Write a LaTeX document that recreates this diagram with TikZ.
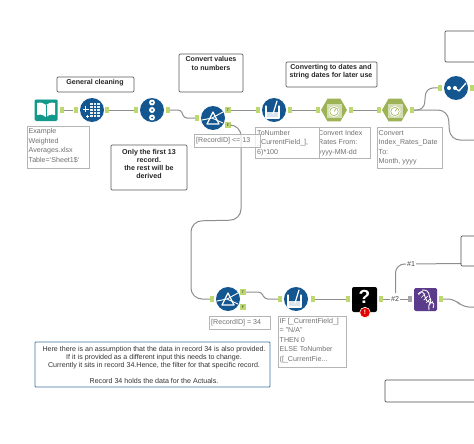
\documentclass[tikz,border=0pt]{standalone}
\usepackage{fontspec}
\setmainfont{Liberation Sans}
\usetikzlibrary{shapes.geometric}
\definecolor{toolblue}{HTML}{14568F}
\definecolor{anchorgreen}{HTML}{BCD86F}
\definecolor{teal}{HTML}{12998A}
\definecolor{hexgreen}{HTML}{9DB356}
\definecolor{dnapurple}{HTML}{5B3B8C}
\definecolor{commentgray}{HTML}{707070}
\definecolor{commentedge}{HTML}{B5B5B5}
\definecolor{wire}{HTML}{8E8E8E}
\definecolor{noteblue}{HTML}{3F75A5}
\tikzset{
  x=1pt,y=-1pt,
  anch/.style={fill=anchorgreen,draw=none,minimum width=4pt,minimum height=6.5pt,inner sep=0pt,font=\fontsize{3.5}{4}\selectfont\bfseries,text=black!70},
  wirel/.style={draw=wire,line width=1pt,rounded corners=4pt},
  toolc/.style={circle,fill=toolblue,draw=none,minimum size=24pt,inner sep=0pt},
  hex/.style={regular polygon,regular polygon sides=6,fill=hexgreen,draw=none,minimum size=26pt,inner sep=0pt},
  commentbox/.style={draw=commentedge,line width=0.8pt,fill=white},
  commenttext/.style={font=\fontsize{7.1}{9.5}\selectfont,text=commentgray,align=left,anchor=north west,inner sep=0pt},
  headbox/.style={draw=black!65,line width=0.7pt,rounded corners=1.2pt,fill=white},
  headtext/.style={font=\fontsize{7.1}{8.2}\selectfont\bfseries,text=black!85,align=center,inner sep=0pt},
  emptybox/.style={draw=black!70,line width=0.7pt,rounded corners=1.2pt},
  glyph/.style={draw=white,line width=1.2pt,line cap=round,line join=round}
}
\newcommand{\PrismGlyph}[2]{%
  \draw[glyph] (#1-6,#2+6) -- (#1,#2-6) -- (#1+6,#2+6) -- cycle;
  \draw[glyph,line width=0.9pt] (#1-11,#2+2) -- (#1-1,#2) -- (#1+10,#2-6);
  \draw[glyph,line width=0.9pt] (#1-1,#2) -- (#1+10,#2+5);
}
\newcommand{\BeakerGlyph}[2]{%
  \draw[glyph] (#1-8,#2-4) -- (#1-8,#2+8) -- (#1+5,#2+8) -- (#1+5,#2-4);
  \draw[glyph] (#1-1,#2+4) -- (#1+3,#2-9);
  \fill[white,opacity=.85] (#1-7,#2+2) rectangle (#1+4,#2+7);
}
\begin{document}
\begin{tikzpicture}
\useasboundingbox (0,0) rectangle (474,444);
% anchors
\node[anch] (a1o) at (62,110) {};
\node[anch] (a2i) at (75.5,110) {};
\node[anch] (a2o) at (107,110) {};
\node[anch] (a3i) at (136,110) {};
\node[anch] (a3o) at (168,110) {};
\node[anch] (a4i) at (197,118) {};
\node[anch,minimum width=6pt] (a4t) at (228,110) {T};
\node[anch,minimum width=6pt] (a4f) at (228,125) {F};
\node[anch] (a5i) at (258,110) {};
\node[anch] (a5o) at (290,110) {};
\node[anch] (a6i) at (318,110) {};
\node[anch] (a6o) at (351,110) {};
\node[anch] (a7i) at (379,110) {};
\node[anch] (a7o) at (412,110) {};
\node[anch] (a8i) at (440,88) {};
\node[anch] (a8o) at (472,88) {};
\node[anch] (b1i) at (212,299) {};
\node[anch,minimum width=6pt] (b1t) at (243,292) {T};
\node[anch,minimum width=6pt] (b1f) at (243,307) {F};
\node[anch] (b2i) at (280,299) {};
\node[anch] (b2o) at (313,299) {};
\node[anch] (b3i) at (348,299) {};
\node[anch] (b3o) at (381,299) {};
\node[anch,fill=black!35] (b4i) at (410,299) {};
\node[anch] (b4o) at (441,299) {};
\coordinate (rightA) at (474,140);
\coordinate (rightB) at (474,307);
\node[font=\fontsize{7.1}{8}\selectfont,text=black!75,inner sep=1pt,fill=white] (lab2) at (395,299) {\#2};
\node[font=\fontsize{7.1}{8}\selectfont,text=black!75,inner sep=1pt,fill=white] (lab1) at (411,264) {\#1};
% wires
\draw[wirel] (a1o) -- (a2i);
\draw[wirel] (a2o) -- (a3i);
\draw[wirel,rounded corners=3pt] (a3o) -- (181,110) -- (184,118) -- (a4i);
\draw[wirel] (a4t) -- (a5i);
\draw[wirel] (a5o) -- (a6i);
\draw[wirel] (a6o) -- (a7i);
\draw[wirel,rounded corners=7pt] (a7o) -- (424,110) -- (426,88) -- (a8i);
\draw[wirel,rounded corners=10pt] (a7o) -- (448,110) -- (450,140) -- (rightA);
\draw[wirel,rounded corners=11pt] (a4f) -- (241,125) -- (241,220) -- (191,221) -- (191,299) -- (b1i);
\draw[wirel,rounded corners=3pt] (b1t) -- (261,292) -- (265,299) -- (b2i);
\draw[wirel] (b2o) -- (b3i);
\draw[wirel] (b3o) -- (lab2);
\draw[wirel] (lab2) -- (b4i);
\draw[wirel,rounded corners=7pt] (b4o) -- (455,299) -- (462,307) -- (rightB);
\draw[wirel,rounded corners=9pt] (395.5,293) -- (395.5,264) -- (lab1);
\draw[wirel] (lab1) -- (461,263.5);
% tools
\node[rectangle,rounded corners=1.5pt,fill=teal,minimum width=23pt,minimum height=22pt,inner sep=0pt] (t1) at (46,110) {};
\fill[white] (37,103) .. controls (41,102) and (44,103) .. (46,105) .. controls (48,103) and (51,102) .. (55,103) -- (55,115) .. controls (51,114) and (48,115) .. (46,117) .. controls (44,115) and (41,114) .. (37,115) -- cycle;
\draw[teal,line width=.8pt] (46,105) -- (46,117);
\fill[white,opacity=.55] (34,99) -- (57,99) -- (57,100) -- (34,100) -- cycle;
\node[toolc] (t2) at (92,110) {};
\fill[white,opacity=.9] (90,103) rectangle (100,118);
\foreach \yy in {105,108,111,114,117}{\draw[toolblue,line width=.5pt] (90,\yy) -- (100,\yy);}
\foreach \xx in {93,96.5}{\draw[toolblue,line width=.5pt] (\xx,103) -- (\xx,118);}
\draw[white,line width=.8pt] (85.5,106) -- (85.5,112) (82.5,109) -- (88.5,109);
\draw[white,line width=.6pt] (87,115) -- (87,118) (85.5,116.5) -- (88.5,116.5);
\node[toolc] (t3) at (152,110) {};
\foreach \yy in {102.5,110,117.5}{\fill[white] (152,\yy) circle (3pt);\fill[toolblue] (152,\yy) circle (1pt);}
\node[toolc] (t4) at (213,118) {};
\PrismGlyph{213}{118}
\node[toolc] (t5) at (274,110) {};
\BeakerGlyph{274}{110}
\foreach \nn/\xx in {t6/334,t7/395}{
  \node[hex] (\nn) at (\xx,110) {};
  \fill[hexgreen!45!white] (\xx-7.5,104) rectangle (\xx+7.5,118);
  \fill[white] (\xx,111.5) circle (5.5pt);
  \draw[hexgreen,line width=.6pt] (\xx,111.5) circle (4.2pt);
  \draw[hexgreen,line width=.6pt] (\xx,111.5) -- (\xx+2,108.5);
}
\node[toolc] (t8) at (456,88) {};
\fill[white] (449,88) circle (2pt) (455,88) circle (2pt);
\draw[glyph,line width=1.3pt] (455,88) -- (459,91) -- (466,83);
\node[toolc] (t9) at (228,299) {};
\PrismGlyph{228}{299}
\node[toolc] (t10) at (296,299) {};
\BeakerGlyph{296}{299}
\node[rectangle,rounded corners=2pt,fill=black,minimum width=25pt,minimum height=25pt,inner sep=0pt] (t11) at (364.5,299.5) {};
\node[text=white,inner sep=0pt,font=\fontsize{19}{19}\selectfont\bfseries] (t11q) at (364.5,297) {?};
\node[circle,fill=red!90!black,draw=white,line width=.6pt,minimum size=10.5pt,inner sep=0pt,text=white,font=\fontsize{6.5}{7}\selectfont\bfseries] (t11e) at (365,312.5) {!};
\node[rectangle,rounded corners=1.5pt,fill=dnapurple,minimum width=23pt,minimum height=23pt,inner sep=0pt] (t12) at (425.5,299.5) {};
\foreach \pp in {0,2.6,...,13}{\draw[white,line width=.6pt] (418.5+\pp,295+\pp) -- (422.5+\pp,291+\pp);}
\draw[white,line width=.9pt] (418,294) .. controls (425,287) and (424,298) .. (427,301) .. controls (430,304) and (436,300) .. (433,308);
\draw[white,line width=.9pt] (422,290) .. controls (431,290) and (428,295) .. (430,298) .. controls (433,301) and (427,304) .. (429,310);
% comments
\draw[commentbox] (27,126) rectangle (89,168);
\node[commenttext] (c1) at (28.5,128.5) {Example\\Weighted\\Averages.xlsx\\Table=`Sheet1\$`};
\draw[commentbox] (319,127) rectangle (370,158);
\node[commenttext] (c3) at (318,130) {Convert Index\\Rates From:\\yyyy-MM-dd};
\draw[commentbox] (255,127) rectangle (319,158);
\node[commenttext] (c2) at (257,130) {ToNumber\\ \_CurrentField\_],\\6)*100};
\draw[commentbox] (377,127) rectangle (442,168);
\node[commenttext] (c4) at (378.5,130) {Convert\\Index\_Rates\_Date\\To:\\Month, yyyy};
\draw[commentbox,fill=white,fill opacity=.75] (194,134) rectangle (260,147);
\node[commenttext,anchor=west] (c5) at (196,140.5) {[RecordID] <= 13};
\draw[commentbox] (209,316) rectangle (270,329);
\node[commenttext,anchor=west] (c6) at (211,322.5) {[RecordID] = 34};
\draw[commentbox] (278,316) rectangle (346,367);
\node[commenttext] (c7) at (279.5,318) {IF [\_CurrentField\_]\\= "N/A"\\THEN 0\\ELSE ToNumber\\([\_CurrentFie...};
% heading boxes
\draw[headbox] (57,77) rectangle (134,92);
\node[headtext] (h1) at (95,82.5) {General cleaning};
\draw[headbox] (179,54) rectangle (243,92);
\node[headtext] (h2) at (211,63.5) {Convert values\\to numbers};
\draw[headbox] (286,62) rectangle (377,87);
\node[headtext] (h3) at (331,71.5) {Converting to dates and\\string dates for later use};
\draw[headbox] (111,145) rectangle (187,190);
\node[headtext] (h4) at (149,164) {Only the first 13\\record.\\the rest will be\\derived};
% empty boxes
\draw[emptybox] (480,31) -- (445,31) -- (445,62) -- (480,62);
\draw[emptybox] (480,236) -- (461,236) -- (461,266) -- (480,266);
\draw[emptybox] (480,380) -- (385,380) -- (385,402) -- (480,402);
% note
\draw[draw=noteblue,line width=.8pt,rounded corners=.8pt,fill=white] (35,342) rectangle (270,387);
\node[font=\fontsize{7.1}{8}\selectfont,text=black!80,align=center,inner sep=0pt] (n1) at (154,364.5) {Here there is an assumption that the data in record 34 is also provided.\\If it is provided as a different input this needs to change.\\Currently it sits in record 34.Hence, the filter for that specific record.\\[8pt]Record 34 holds the data for the Actuals.};
\end{tikzpicture}
\end{document}
